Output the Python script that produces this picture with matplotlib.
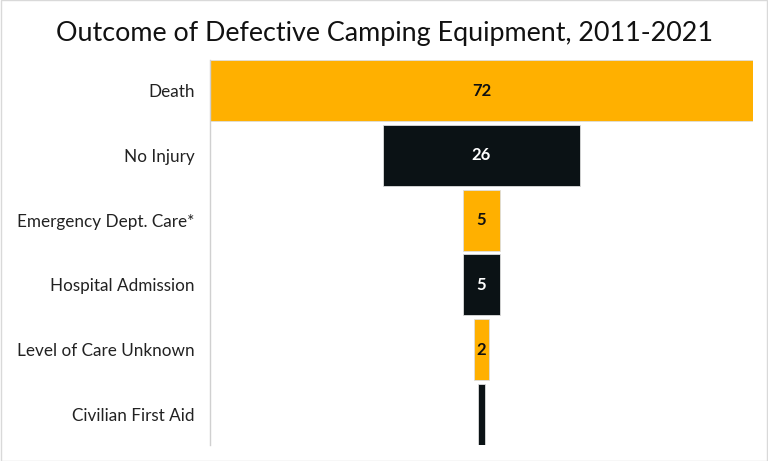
import matplotlib
matplotlib.use("Agg")
import matplotlib.pyplot as plt
from matplotlib.patches import Rectangle

categories = ["Death", "No Injury", "Emergency Dept. Care*", "Hospital Admission",
              "Level of Care Unknown", "Civilian First Aid"]
values = [72, 26, 5, 5, 2, 1]
show_labels = [True, True, True, True, True, False]

ORANGE = "#FFB000"
BLACK = "#0B1215"
colors = [ORANGE, BLACK, ORANGE, BLACK, ORANGE, BLACK]
text_colors = ["#111111", "white", "#111111", "white", "#111111", "white"]

plt.rcParams['font.family'] = ['Lato', 'DejaVu Sans']

fig = plt.figure(figsize=(7.68, 4.61), dpi=100)
ax = fig.add_axes([0.2734, 0.0347, 0.7071, 0.8351])

ypos = list(range(len(categories)))
lefts = [-v / 2 for v in values]
ax.barh(ypos, values, left=lefts, height=0.94, color=colors,
        edgecolor="#dddddd", linewidth=0.6)

for y, v, show, tc in zip(ypos, values, show_labels, text_colors):
    if show:
        ax.text(0, y, str(v), ha="center", va="center", fontsize=12,
                fontweight="bold", color=tc)

ax.set_xlim(-36, 36)
ax.set_ylim(5.475, -0.475)
ax.set_yticks(ypos)
ax.set_yticklabels(categories, fontsize=12.3, color="#222222")
ax.tick_params(axis="y", length=0, pad=11)
ax.set_xticks([])
for s in ["top", "right", "bottom"]:
    ax.spines[s].set_visible(False)
ax.spines["left"].set_color("#d0d0d0")
ax.spines["left"].set_linewidth(1)

fig.text(0.5, 1 - 33 / 461, "Outcome of Defective Camping Equipment, 2011-2021",
         ha="center", va="center", fontsize=19.4, color="#111111")

fig.patches.append(Rectangle((0.001, 0.001), 0.998, 0.998, transform=fig.transFigure,
                             fill=False, edgecolor="#d9d9d9", linewidth=1))

fig.savefig("out.png", dpi=100)
